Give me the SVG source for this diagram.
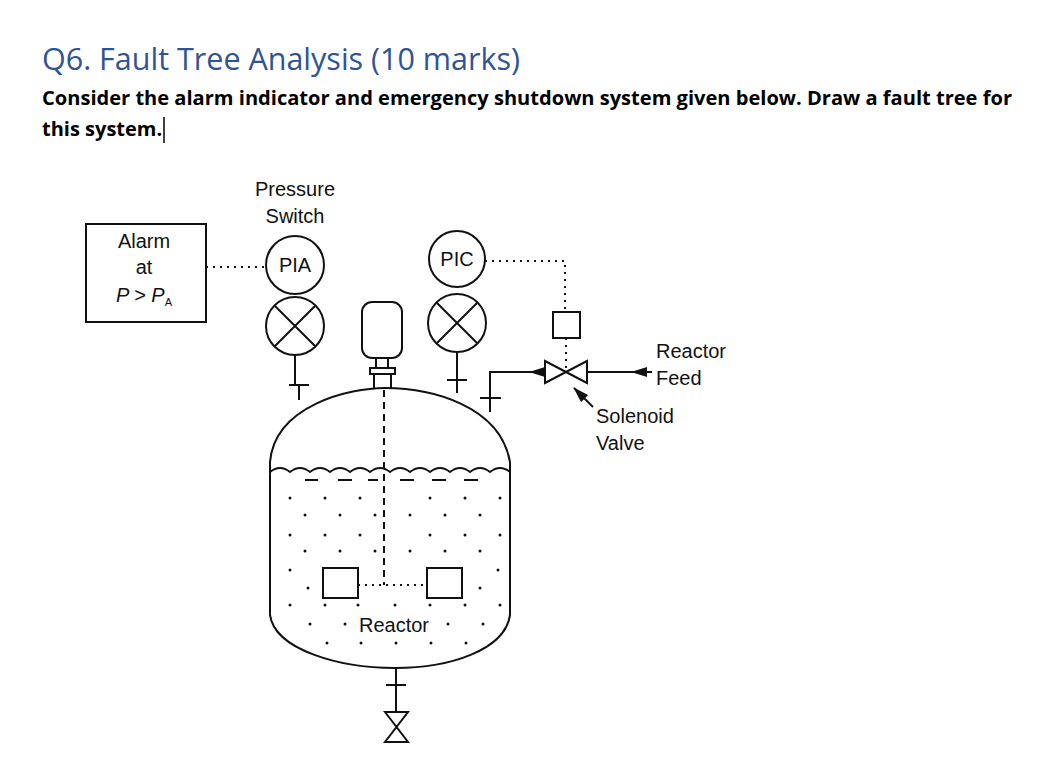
<svg xmlns="http://www.w3.org/2000/svg" width="1048" height="778" viewBox="0 0 1048 778">
<style>
.t{font-family:"Liberation Sans",Arial,sans-serif;font-size:20px;fill:#111}
.ln{fill:none;stroke:#111;stroke-width:2}
.dot{fill:none;stroke:#111;stroke-width:2;stroke-dasharray:2 5}
.dash{fill:none;stroke:#111;stroke-width:2;stroke-dasharray:7 5}
</style>
<defs><marker id="ah" markerWidth="16" markerHeight="10" refX="15" refY="5" orient="auto" markerUnits="userSpaceOnUse"><path d="M0,0 L16,5 L0,10 Z" fill="#111"/></marker></defs>
<rect width="1048" height="778" fill="#fff"/>
<text x="42" y="70" font-family="'Open Sans','Liberation Sans',sans-serif" font-size="30.5" fill="#2f5496">Q6. Fault Tree Analysis (10 marks)</text>
<text x="42" y="105" font-family="'Open Sans','Liberation Sans',sans-serif" font-size="20" font-weight="bold" fill="#000" textLength="970" lengthAdjust="spacingAndGlyphs">Consider the alarm indicator and emergency shutdown system given below. Draw a fault tree for</text>
<text x="42" y="136" font-family="'Open Sans','Liberation Sans',sans-serif" font-size="20" font-weight="bold" fill="#000">this system.</text>
<line x1="164" y1="117" x2="164" y2="143" stroke="#000" stroke-width="1.5"/>

<g id="alarm">
<rect x="86" y="224" width="120" height="98" class="ln" stroke-width="1.5"/>
<text class="t" x="144" y="248" text-anchor="middle">Alarm</text>
<text class="t" x="144" y="274" text-anchor="middle" font-size="16">at</text>
<text class="t" x="144" y="302" text-anchor="middle" font-style="italic">P &gt; P<tspan font-size="11" dy="4" font-style="normal">A</tspan></text>
</g>
<g id="pia">
<text class="t" x="295" y="196" text-anchor="middle">Pressure</text>
<text class="t" x="295" y="223" text-anchor="middle">Switch</text>
<circle cx="295" cy="265" r="29" class="ln"/>
<text class="t" x="295" y="272" text-anchor="middle" font-size="18">PIA</text>
<circle cx="295" cy="326" r="29" class="ln"/>
<path d="M275,306 L315,346 M315,306 L275,346" class="ln"/>
</g>
<g id="pic">
<circle cx="457" cy="259" r="28" class="ln"/>
<text class="t" x="457" y="266" text-anchor="middle" font-size="18">PIC</text>
<circle cx="457" cy="323" r="29" class="ln"/>
<path d="M437,303 L477,343 M477,303 L437,343" class="ln"/>
</g>
<g id="cylinder">
<rect x="362" y="302" width="40" height="56" rx="10" class="ln"/>
<path d="M376,358 V368 M388,358 V368 M370,368 H395 V374 H370 Z M374,374 V388 M391,374 V388" class="ln"/>
</g>
<g id="vessel">
<path d="M270,462 C275,405 350,388 385,388 C430,388 500,405 510,462 V615 C505,650 450,668 395,668 C340,668 275,650 270,615 Z" class="ln"/>
<path d="M270,472 q10,-8 20,0 q10,-8 20,0 q10,-8 20,0 q10,-8 20,0 q10,-8 20,0 q10,-8 20,0 q10,-8 20,0 q10,-8 20,0 q10,-8 20,0 q10,-8 20,0 q10,-8 20,0 q10,-8 20,0" class="ln" stroke-width="1.5"/>
<path d="M305,480 H318 M338,480 H352 M368,480 H378 M400,480 H414 M432,480 H446 M464,480 H478" class="ln" stroke-width="1.5"/>
<rect x="323" y="568" width="35" height="30" class="ln" stroke-width="1.5"/>
<rect x="427" y="568" width="35" height="30" class="ln" stroke-width="1.5"/>
<path d="M358,585 H427" class="dot"/>
<path d="M384,390 V585" class="dash"/>
<text class="t" x="394" y="632" text-anchor="middle">Reactor</text>
<g fill="#111">
<circle cx="290" cy="498" r="1.5"/><circle cx="325" cy="498" r="1.5"/><circle cx="360" cy="498" r="1.5"/><circle cx="430" cy="498" r="1.5"/><circle cx="465" cy="498" r="1.5"/><circle cx="500" cy="498" r="1.5"/>
<circle cx="305" cy="515" r="1.5"/><circle cx="340" cy="515" r="1.5"/><circle cx="375" cy="515" r="1.5"/><circle cx="410" cy="515" r="1.5"/><circle cx="445" cy="515" r="1.5"/><circle cx="480" cy="515" r="1.5"/>
<circle cx="290" cy="535" r="1.5"/><circle cx="325" cy="535" r="1.5"/><circle cx="360" cy="535" r="1.5"/><circle cx="430" cy="535" r="1.5"/><circle cx="465" cy="535" r="1.5"/><circle cx="500" cy="535" r="1.5"/>
<circle cx="305" cy="551" r="1.5"/><circle cx="340" cy="551" r="1.5"/><circle cx="375" cy="551" r="1.5"/><circle cx="410" cy="551" r="1.5"/><circle cx="445" cy="551" r="1.5"/><circle cx="480" cy="551" r="1.5"/>
<circle cx="290" cy="570" r="1.5"/><circle cx="498" cy="570" r="1.5"/><circle cx="308" cy="588" r="1.5"/><circle cx="480" cy="588" r="1.5"/>
<circle cx="290" cy="605" r="1.5"/><circle cx="325" cy="605" r="1.5"/><circle cx="358" cy="605" r="1.5"/><circle cx="395" cy="605" r="1.5"/><circle cx="430" cy="605" r="1.5"/><circle cx="465" cy="605" r="1.5"/><circle cx="500" cy="605" r="1.5"/>
<circle cx="310" cy="624" r="1.5"/><circle cx="345" cy="624" r="1.5"/><circle cx="448" cy="624" r="1.5"/><circle cx="483" cy="624" r="1.5"/>
<circle cx="327" cy="643" r="1.5"/><circle cx="361" cy="643" r="1.5"/><circle cx="396" cy="643" r="1.5"/><circle cx="431" cy="643" r="1.5"/><circle cx="466" cy="643" r="1.5"/>
</g>
</g>
<g id="valve">
<rect x="553" y="312" width="27" height="26" class="ln" stroke-width="1.5"/>
<path d="M545,361 L587,383 V361 L545,383 Z" class="ln"/>
<text class="t" x="656" y="358">Reactor</text>
<text class="t" x="656" y="385">Feed</text>
<text class="t" x="596" y="423">Solenoid</text>
<text class="t" x="596" y="450">Valve</text>
</g>
<g id="bottom-valve">
<path d="M385,712 L408,742 H385 L408,712 Z" class="ln"/>
</g>
<g id="connectors">
<path d="M206,267 H266" class="dot"/>
<path d="M485,261 H565 V312" class="dot"/>
<path d="M566,338 V372" class="dot" stroke-width="1.5"/>
<path d="M295,355 V385 M299,385 V400 M289,385 H309" class="ln" stroke-width="1.5"/>
<path d="M457,352 V393 M447,380 H467" class="ln" stroke-width="1.5"/>
<path d="M544,372 H490 V412 M480,398 H501" class="ln" stroke-width="1.5"/>
<line x1="546" y1="372" x2="530" y2="372" class="ln" marker-end="url(#ah)"/>
<path d="M587,372 H652" class="ln" stroke-width="1.5"/>
<line x1="652" y1="372" x2="632" y2="372" class="ln" marker-end="url(#ah)"/>
<line x1="593" y1="407" x2="574" y2="388" class="ln" stroke-width="1.5" marker-end="url(#ah)"/>
<path d="M396,668 V712 M386,685 H406" class="ln" stroke-width="1.5"/>
</g>
</svg>
